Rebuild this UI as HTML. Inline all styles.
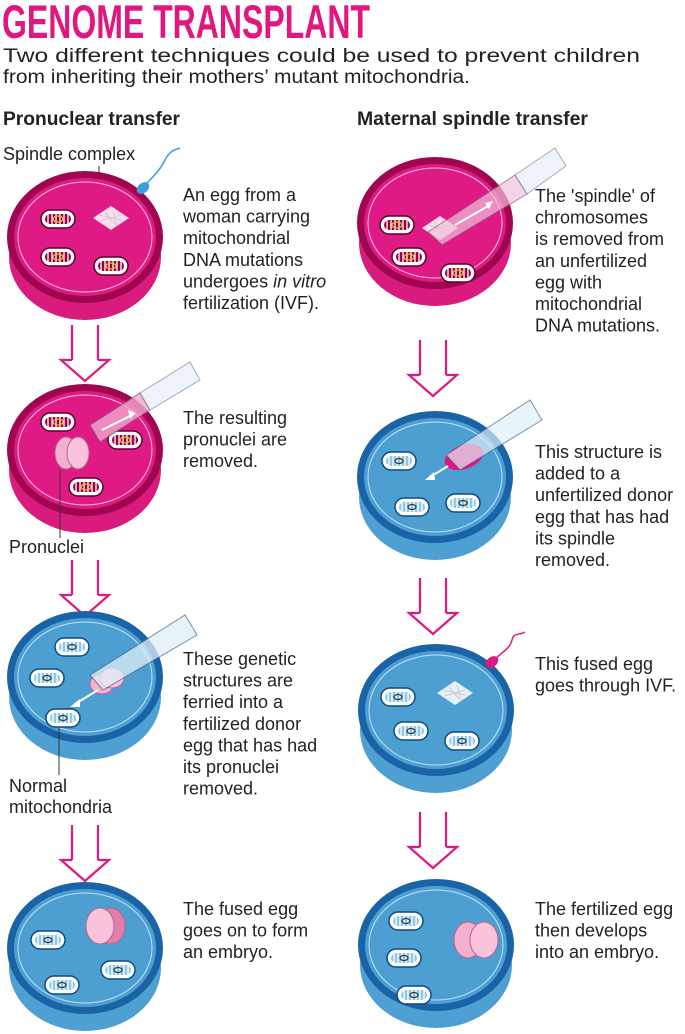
<!DOCTYPE html>
<html><head><meta charset="utf-8"><style>
body{margin:0;background:#fff;width:685px;height:1034px;overflow:hidden}
svg{display:block}
text{font-family:"Liberation Sans",sans-serif;fill:#222}
.t{font-size:18px}
</style></head><body>
<svg width="685" height="1034" viewBox="0 0 685 1034" xmlns="http://www.w3.org/2000/svg">
<defs>
<g id="mm">
<rect x="-17" y="-9" width="34" height="18" rx="9" fill="#fff" stroke="#5a0030" stroke-width="1.5"/>
<rect x="-13" y="-5" width="26" height="10" rx="5" fill="#9a0048"/>
<path d="M-10 -5v10M-6 -5v10M-2 -5v10M2 -5v10M6 -5v10M10 -5v10" stroke="#fff" stroke-width="1.3"/>
<ellipse cx="0" cy="0" rx="5" ry="3" fill="none" stroke="#f0c020" stroke-width="1.3"/>
</g>
<g id="mb">
<rect x="-17" y="-9" width="34" height="18" rx="9" fill="#fff" stroke="#0e4a80" stroke-width="1.5"/>
<rect x="-13" y="-5" width="26" height="10" rx="5" fill="#8cc8ec"/>
<path d="M-10 -5v10M-6 -5v10M-2 -5v10M2 -5v10M6 -5v10M10 -5v10" stroke="#fff" stroke-width="1.3"/>
<ellipse cx="0" cy="0" rx="4" ry="2.5" fill="none" stroke="#333" stroke-width="1.2"/>
</g>
<g id="em">
<ellipse cx="0" cy="20" rx="76" ry="63" fill="#d81b7d"/>
<ellipse cx="0" cy="0" rx="78" ry="66" fill="#a0064f"/>
<ellipse cx="0" cy="0" rx="71" ry="59" fill="#e01a84"/>
<ellipse cx="0" cy="0" rx="67" ry="55" fill="none" stroke="#f6c0dc" stroke-width="1"/>
</g>
<g id="eb">
<ellipse cx="0" cy="20" rx="76" ry="63" fill="#4fa0d2"/>
<ellipse cx="0" cy="0" rx="78" ry="66" fill="#1a63a6"/>
<ellipse cx="0" cy="0" rx="71" ry="59" fill="#4e9fd1"/>
<ellipse cx="0" cy="0" rx="67" ry="55" fill="none" stroke="#c0e0f4" stroke-width="1"/>
</g>
<g id="sp">
<path d="M-18 0L0 -12L18 0L0 12Z" fill="#fff" opacity="0.85"/>
<path d="M-12 -3l22 5M-10 3l20 -6M-6 -6l10 12M2 -8l4 16" stroke="#ccc" stroke-width="1"/>
</g>
<g id="ar">
<path d="M-13 0V35M13 0V35M-13 35H-24L0 56L24 35H13" fill="none" stroke="#e0177e" stroke-width="2.2"/>
</g>
</defs>

<text x="2" y="38" textLength="368" lengthAdjust="spacingAndGlyphs" style="font-weight:bold;font-size:47px;fill:#e0177e">GENOME TRANSPLANT</text>
<text x="3" y="62" textLength="637" lengthAdjust="spacingAndGlyphs" style="font-size:19px">Two different techniques could be used to prevent children</text>
<text x="3" y="83" textLength="467" lengthAdjust="spacingAndGlyphs" style="font-size:19px">from inheriting their mothers’ mutant mitochondria.</text>
<text x="3" y="125" textLength="177" lengthAdjust="spacingAndGlyphs" style="font-size:19px;font-weight:bold">Pronuclear transfer</text>
<text x="357" y="125" textLength="231" lengthAdjust="spacingAndGlyphs" style="font-size:19px;font-weight:bold">Maternal spindle transfer</text>

<!-- LEFT 1 -->
<text class="t" x="3" y="160">Spindle complex</text>
<line x1="99" y1="166" x2="99" y2="214" stroke="#333" stroke-width="1"/>
<use href="#em" x="85" y="237"/>
<path d="M145 185 C155 175,160 170,165 160 S175 150,180 148" fill="none" stroke="#3aa0dd" stroke-width="1.5"/>
<ellipse cx="143" cy="188" rx="7" ry="5" fill="#3aa0dd" transform="rotate(-40 143 188)"/>
<use href="#sp" x="111" y="218"/>
<use href="#mm" x="58" y="219"/><use href="#mm" x="58" y="257"/><use href="#mm" x="111" y="266"/>
<text class="t" x="183" y="201">An egg from a</text>
<text class="t" x="183" y="222.6">woman carrying</text>
<text class="t" x="183" y="244.2">mitochondrial</text>
<text class="t" x="183" y="265.8">DNA mutations</text>
<text class="t" x="183" y="287.4">undergoes <tspan font-style="italic">in vitro</tspan></text>
<text class="t" x="183" y="309">fertilization (IVF).</text>
<use href="#ar" x="85" y="325"/>

<!-- LEFT 2 -->
<use href="#em" x="85" y="450"/>
<use href="#mm" x="58" y="422"/><use href="#mm" x="125" y="440"/><use href="#mm" x="86" y="487"/>
<ellipse cx="66" cy="453" rx="11" ry="16" fill="#f4b0cf" stroke="#c06090"/>
<ellipse cx="78" cy="453" rx="11" ry="16" fill="#f7c4dc" stroke="#c06090"/>
<path d="M90 425L140 393L150 410L100 442Z" fill="#f2a9cc" opacity="0.8" stroke="#7a5a80"/>
<path d="M140 393L190 362L200 380L150 410Z" fill="#e6eef6" opacity="0.7" stroke="#7a8aa0"/>
<path d="M102 430L132 415" stroke="#fff" stroke-width="2"/><path d="M128 410L136 413L130 419Z" fill="#fff"/>
<line x1="60" y1="470" x2="60" y2="538" stroke="#333"/>
<text class="t" x="9" y="553">Pronuclei</text>
<text class="t" x="183" y="424">The resulting</text>
<text class="t" x="183" y="445.6">pronuclei are</text>
<text class="t" x="183" y="467.2">removed.</text>
<use href="#ar" x="85" y="560"/>

<!-- LEFT 3 -->
<use href="#eb" x="85" y="677"/>
<use href="#mb" x="72" y="647"/><use href="#mb" x="47" y="678"/><use href="#mb" x="63" y="718"/>
<ellipse cx="102" cy="684" rx="12" ry="10" fill="#f4b0cf" stroke="#c06090"/>
<ellipse cx="112" cy="678" rx="12" ry="10" fill="#f7c4dc" stroke="#c06090"/>
<path d="M90 675L185 615L197 635L103 690Z" fill="#dfeef8" opacity="0.75" stroke="#4a6a90"/>
<path d="M98 690L75 704" stroke="#fff" stroke-width="2"/><path d="M70 707L80 699L80 707Z" fill="#fff"/>
<line x1="59" y1="727" x2="59" y2="775" stroke="#333"/>
<text class="t" x="9" y="792">Normal</text>
<text class="t" x="9" y="813">mitochondria</text>
<text class="t" x="183" y="665">These genetic</text>
<text class="t" x="183" y="686.6">structures are</text>
<text class="t" x="183" y="708.2">ferried into a</text>
<text class="t" x="183" y="729.8">fertilized donor</text>
<text class="t" x="183" y="751.4">egg that has had</text>
<text class="t" x="183" y="773">its pronuclei</text>
<text class="t" x="183" y="794.6">removed.</text>
<use href="#ar" x="85" y="825"/>

<!-- LEFT 4 -->
<use href="#eb" x="85" y="948"/>
<use href="#mb" x="48" y="940"/><use href="#mb" x="62" y="985"/><use href="#mb" x="118" y="970"/>
<ellipse cx="111" cy="926" rx="14" ry="18" fill="#e080aa" stroke="#c06090"/>
<ellipse cx="100" cy="926" rx="14" ry="18" fill="#f7c4dc" stroke="#c06090"/>
<text class="t" x="183" y="915">The fused egg</text>
<text class="t" x="183" y="936.6">goes on to form</text>
<text class="t" x="183" y="958.2">an embryo.</text>

<!-- RIGHT 1 -->
<use href="#em" x="435" y="223"/>
<use href="#mm" x="397" y="225"/><use href="#mm" x="409" y="257"/><use href="#mm" x="458" y="273"/>
<use href="#sp" x="440" y="228"/>
<path d="M428 232L515 175L527 194L442 245Z" fill="#f2c0da" opacity="0.7" stroke="#7a5a80"/>
<path d="M515 175L555 148L566 166L527 194Z" fill="#e6eef6" opacity="0.7" stroke="#7a8aa0"/>
<path d="M455 225L490 205" stroke="#fff" stroke-width="2"/><path d="M493 201L485 203L489 209Z" fill="#fff"/>
<text class="t" x="535" y="202">The 'spindle' of</text>
<text class="t" x="535" y="223.6">chromosomes</text>
<text class="t" x="535" y="245.2">is removed from</text>
<text class="t" x="535" y="266.8">an unfertilized</text>
<text class="t" x="535" y="288.4">egg with</text>
<text class="t" x="535" y="310">mitochondrial</text>
<text class="t" x="535" y="331.6">DNA mutations.</text>
<use href="#ar" x="433" y="340"/>

<!-- RIGHT 2 -->
<use href="#eb" x="435" y="477"/>
<use href="#mb" x="399" y="461"/><use href="#mb" x="412" y="507"/><use href="#mb" x="463" y="503"/>
<ellipse cx="464" cy="457" rx="20" ry="12" fill="#e0177e" transform="rotate(-20 464 457)"/>
<path d="M446 455L530 400L542 420L460 470Z" fill="#dfeef8" opacity="0.7" stroke="#4a6a90"/>
<path d="M448 466L430 477" stroke="#fff" stroke-width="2"/><path d="M425 480L434 472L435 480Z" fill="#fff"/>
<text class="t" x="535" y="458">This structure is</text>
<text class="t" x="535" y="479.6">added to a</text>
<text class="t" x="535" y="501.2">unfertilized donor</text>
<text class="t" x="535" y="522.8">egg that has had</text>
<text class="t" x="535" y="544.4">its spindle</text>
<text class="t" x="535" y="566">removed.</text>
<use href="#ar" x="433" y="578"/>

<!-- RIGHT 3 -->
<use href="#eb" x="436" y="710"/>
<use href="#mb" x="398" y="697"/><use href="#mb" x="411" y="731"/><use href="#mb" x="462" y="741"/>
<use href="#sp" x="455" y="693"/>
<ellipse cx="492" cy="662" rx="7" ry="5" fill="#e0177e" transform="rotate(-40 492 662)"/>
<path d="M496 658 C505 650,510 648,512 640 S518 636,525 632" fill="none" stroke="#e0177e" stroke-width="1.5"/>
<text class="t" x="535" y="670">This fused egg</text>
<text class="t" x="535" y="691.6">goes through IVF.</text>
<use href="#ar" x="433" y="812"/>

<!-- RIGHT 4 -->
<use href="#eb" x="436" y="945"/>
<use href="#mb" x="406" y="921"/><use href="#mb" x="404" y="958"/><use href="#mb" x="414" y="995"/>
<ellipse cx="468" cy="940" rx="14" ry="18" fill="#f4b0cf" stroke="#c06090"/>
<ellipse cx="484" cy="940" rx="14" ry="18" fill="#f7c4dc" stroke="#c06090"/>
<text class="t" x="535" y="915">The fertilized egg</text>
<text class="t" x="535" y="936.6">then develops</text>
<text class="t" x="535" y="958.2">into an embryo.</text>
</svg>
</body></html>
